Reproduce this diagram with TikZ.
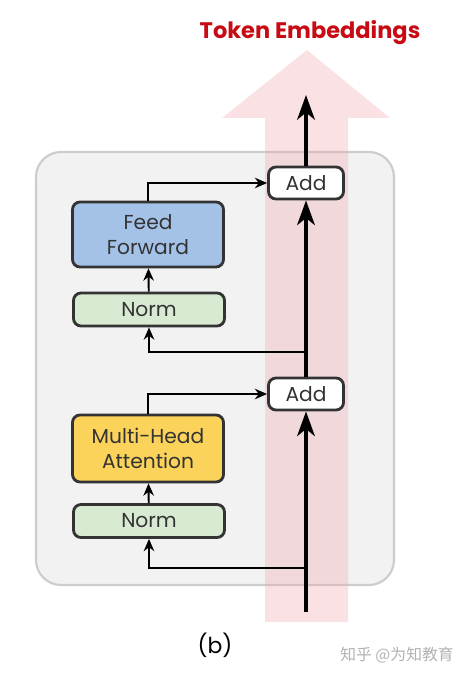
\documentclass[tikz,border=0pt]{standalone}
\usepackage{fontspec}
\setmainfont{Poppins}
\newfontfamily\cjk{Noto Sans CJK SC}
\usetikzlibrary{arrows.meta}

\definecolor{ffblue}{RGB}{164,194,232}
\definecolor{mhayellow}{RGB}{251,211,90}
\definecolor{normgreen}{RGB}{217,234,211}
\definecolor{tokred}{RGB}{200,10,20}
\definecolor{pinkband}{RGB}{240,165,172}
\definecolor{boxgray}{RGB}{242,242,242}
\definecolor{edgegray}{RGB}{51,51,51}

\tikzstyle{block}=[draw=edgegray, line width=1.6pt, rounded corners=0.15cm,
  inner sep=0pt, minimum width=3.02cm, align=center, text=black!80,
  font=\fontsize{11.5}{14.5}\selectfont]
\tikzstyle{addbox}=[block, fill=white, minimum width=1.5cm, minimum height=0.64cm]
\tikzstyle{normbox}=[block, fill=normgreen, minimum height=0.66cm]
\tikzstyle{side}=[draw, line width=1.1pt, -{Stealth[length=7pt,width=6pt]}]
\tikzstyle{main}=[draw, line width=2.2pt, -{Stealth[length=14pt,width=10pt,inset=4pt]}]

\begin{document}
\begin{tikzpicture}
    \useasboundingbox (0,0) rectangle (9.4,-13.52);
    % layer box and residual stream
    \draw[fill=boxgray, draw=black!20, line width=1.2pt, rounded corners=0.5cm]
      (0.72,-3.04) rectangle (7.88,-11.7);
    \fill[pinkband, opacity=0.32]
      (5.3,-12.44) -- (5.3,-2.36) -- (4.44,-2.36) -- (6.14,-1.0)
      -- (7.8,-2.36) -- (6.96,-2.36) -- (6.96,-12.44) -- cycle;
    \node[font=\fontsize{12.8}{15}\selectfont\bfseries, text=tokred] (title) at (6.2,-0.66) {Token Embeddings};

    \node[addbox] (addt) at (6.12,-3.66) {Add};
    \node[block, fill=ffblue, minimum height=1.3cm] (ff) at (2.96,-4.69) {Feed\\Forward};
    \node[normbox] (normt) at (2.98,-6.19) {Norm};
    \node[addbox] (addb) at (6.12,-7.88) {Add};
    \node[block, fill=mhayellow, minimum height=1.34cm] (mha) at (2.96,-8.97) {Multi-Head\\Attention};
    \node[normbox] (normb) at (2.98,-10.42) {Norm};

    \coordinate (in) at (6.12,-12.24);
    \coordinate (out) at (6.12,-1.9);
    \coordinate (s1) at (6.12,-11.36);
    \coordinate (s2) at (6.12,-7.04);

    \path[side] (s1) -| (normb);
    \path[side] (normb) -- (mha);
    \path[side] (mha.north) |- (addb);
    \path[side] (s2) -| (normt);
    \path[side] (normt) -- (ff);
    \path[side] (ff.north) |- (addt);
    \path[main] (in) -- (addb);
    \path[main] (addb) -- (addt);
    \path[main] (addt) -- (out);

    \node[font=\fontsize{12.5}{14}\selectfont] (cap) at (4.3,-12.9) {(b)};
    \node[font=\cjk\fontsize{9}{11}\selectfont, text=black!30] (mark) at (7.94,-13.1) {知乎 @为知教育};
\end{tikzpicture}
\end{document}
